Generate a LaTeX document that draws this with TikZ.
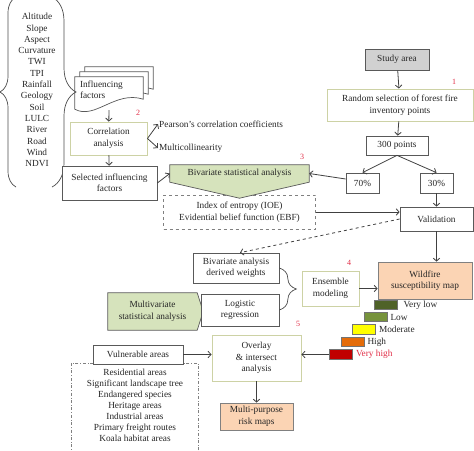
\documentclass[tikz,border=0pt]{standalone}
\usepackage{fontspec}
\setmainfont{Liberation Serif}
\usepackage{tikz}
\usetikzlibrary{arrows.meta,positioning,backgrounds,decorations.pathreplacing}
\usepackage{xcolor}
\definecolor{lolive}{RGB}{205,210,165}
\definecolor{gfill}{RGB}{214,227,188}
\definecolor{peach}{RGB}{251,212,180}
\definecolor{numred}{RGB}{225,45,70}
\definecolor{lvA}{RGB}{79,98,40}
\definecolor{lvB}{RGB}{119,147,60}
\definecolor{lvC}{RGB}{255,255,0}
\definecolor{lvD}{RGB}{228,108,10}
\definecolor{lvE}{RGB}{192,0,0}
\newcommand{\bfont}{\fontsize{9.3}{11.5}\selectfont}
\newcommand{\docsheet}[1]{%
  \filldraw[sheet] (#1.north west) -- (#1.north east) -- ([yshift=4pt]#1.south east)
    .. controls ([xshift=-28pt,yshift=13pt]#1.south east) and ([xshift=20pt,yshift=-17pt]#1.south west)
    .. ([yshift=-6pt]#1.south west) -- cycle;}
\tikzset{
  txt/.style    ={font=\bfont, text=black!85, inner sep=1pt, align=center},
  box/.style    ={txt, draw=black!65, fill=white, line width=0.7pt},
  gbox/.style   ={box, draw=lolive, line width=0.9pt},
  pbox/.style   ={box, fill=peach, draw=black!50},
  dbox/.style   ={box, draw=black!50, dashed},
  ddbox/.style  ={draw=black!50, dash dot, line width=0.7pt},
  sheet/.style  ={draw=black!65, fill=white, line width=0.7pt},
  pent/.style   ={draw=black!65, fill=gfill, line width=0.7pt},
  legc/.style   ={draw=black!55, minimum width=23pt, minimum height=9.5pt,
                  inner sep=0pt, line width=0.6pt},
  num/.style    ={font=\fontsize{8}{9}\selectfont, text=numred},
  anc/.style    ={-{Straight Barb[length=3pt,width=6.5pt]}, line width=0.8pt, black!75},
  danc/.style   ={anc, dashed},
  brc/.style    ={decorate, decoration={brace, amplitude=#1}, line width=0.7pt, black!70},
}

\begin{document}
\begin{tikzpicture}[x=1pt,y=-1pt]
  \useasboundingbox (0,0) rectangle (474,450);
  % factor list
  \node[txt, font=\fontsize{9.3}{11.3}\selectfont] (facs) at (37,90)
    {Altitude\\Slope\\Aspect\\Curvature\\TWI\\TPI\\Rainfall\\Geology\\Soil\\LULC\\River\\Road\\Wind\\NDVI};
  \draw[brc=16pt] (16,187) -- (16,-3);
  \draw[brc=24pt] (52,-3) -- (52,187);
  \node[txt, minimum width=68pt, minimum height=26pt] (sh3) at (119,80) {};
  \node[txt, minimum width=68pt, minimum height=26pt] (sh2) at (114,85) {};
  \node[txt, minimum width=68pt, minimum height=26pt, text width=58pt,
        inner xsep=5pt, align=left] (inf) at (109,90) {Influencing\\factors};
  \node[num] (n2) at (138,113) {2};
  \node[gbox, minimum width=77pt, minimum height=33pt] (corr) at (108.5,138.5) {Correlation\\analysis};
  \node[txt, anchor=west] (pear) at (158,124) {Pearson's correlation coefficients};
  \node[txt, anchor=west] (mcol) at (158,148) {Multicollinearity};
  \node[box, minimum width=95pt, minimum height=34pt] (sel) at (109.5,183) {Selected influencing\\factors};
  \node[txt, minimum width=139pt, minimum height=17pt] (biv) at (239.5,173.5) {Bivariate statistical analysis};
  \node[num] (n3) at (302,157) {3};
  \node[txt, minimum width=89pt, minimum height=37pt] (mva) at (152.5,311.5) {Multivariate\\statistical analysis};
  \begin{scope}[on background layer]
    \node[dbox, minimum width=152pt, minimum height=34pt] (ioe) at (239.5,212)
      {Index of entropy (IOE)\\Evidential belief function (EBF)};
    \filldraw[pent] (biv.north west) -- (biv.north east) -- (biv.south east)
      -- ([yshift=-16pt]biv.south) -- (biv.south west) -- cycle;
    \filldraw[pent] (mva.north west) -- (mva.north east) -- ([xshift=6pt]mva.east)
      -- (mva.south east) -- (mva.south west) -- cycle;
    \docsheet{sh3}
    \docsheet{sh2}
    \docsheet{inf}
  \end{scope}
  % right column
  \node[box, fill=black!18, minimum width=64pt, minimum height=21pt] (study) at (397,59.5) {Study area};
  \node[num] (n1) at (454,82) {1};
  \node[gbox, minimum width=146pt, minimum height=32pt] (rand) at (400,105) {Random selection of forest fire\\inventory points};
  \node[box, minimum width=62pt, minimum height=19pt] (pts) at (397,145.5) {300 points};
  \node[box, minimum width=33pt, minimum height=20pt] (p70) at (362.5,183) {70\%};
  \node[box, minimum width=33pt, minimum height=20pt] (p30) at (436.5,183) {30\%};
  \node[box, minimum width=73pt, minimum height=24pt] (valid) at (436.5,219) {Validation};
  % modelling
  \node[box, minimum width=86pt, minimum height=30pt] (bdw) at (236,268) {Bivariate analysis\\derived weights};
  \node[box, minimum width=78pt, minimum height=32pt] (logr) at (240,310) {Logistic\\regression};
  \node[num] (n4) at (349,263) {4};
  \node[gbox, minimum width=57pt, minimum height=35pt] (ens) at (330.5,288.5) {Ensemble\\modeling};
  \node[pbox, minimum width=94pt, minimum height=37pt] (wild) at (425,280.5) {Wildfire\\susceptibility map};
  \node[legc, fill=lvA] (lA) at (385.5,305) {};
  \node[legc, fill=lvB] (lB) at (375.5,317) {};
  \node[legc, fill=lvC] (lC) at (364,329.5) {};
  \node[legc, fill=lvD] (lD) at (352.5,342) {};
  \node[legc, fill=lvE] (lE) at (341,354.5) {};
  \node[txt, right=5pt of lA] (tA) {Very low};
  \node[txt, right=2pt of lB] (tB) {Low};
  \node[txt, right=2pt of lC] (tC) {Moderate};
  \node[txt, right=2pt of lD] (tD) {High};
  \node[txt, right=2pt of lE, text=numred] (tE) {Very high};
  % risk part
  \node[num] (n5) at (298,324) {5};
  \node[gbox, minimum width=89pt, minimum height=46pt] (over) at (256.5,358) {Overlay\\\& intersect\\analysis};
  \node[txt, font=\fontsize{9.3}{11}\selectfont, minimum width=126pt, inner ysep=6pt, anchor=north] (vlist) at (135,363)
    {Residential areas\\Significant landscape tree\\Endangered species\\Heritage areas\\Industrial areas\\Primary freight routes\\Koala habitat areas};
  \draw[ddbox] (vlist.north west) rectangle ([yshift=-14pt]vlist.south east);
  \node[box, minimum width=90pt, minimum height=19pt] (vul) at (138,354.5) {Vulnerable areas};
  \node[pbox, minimum width=73pt, minimum height=27pt] (risk) at (256.5,416.5) {Multi-purpose\\risk maps};
  % connectors
  \draw[anc] ([yshift=-7pt]inf.south) -- (corr);
  \draw[anc] (corr.east) -- (pear.west);
  \draw[anc] (corr.east) -- (mcol.west);
  \draw[anc] (corr) -- (sel);
  \draw[anc] (sel.east) -- (biv.west);
  \draw[anc] (study) -- (rand);
  \draw[anc] (rand) -- (pts);
  \draw[anc] (pts.south) -- (p70.north);
  \draw[anc] (pts.south) -- (p30.north);
  \draw[anc] ([yshift=4pt]p70.west) -- (biv.east);
  \draw[anc] (p30) -- (valid);
  \draw[anc] (ioe.east) -- (ioe.east -| valid.west);
  \draw[danc] (valid.west) -- ([xshift=4pt]bdw.north);
  \draw[anc] (valid.south) -- (valid.south |- wild.north);
  \draw[brc=17pt] (bdw.east) -- (logr.east);
  \draw[anc] (ens.east) -- (ens.east -| wild.west);
  \draw[anc] (lE.west) -- (lE.west -| over.east);
  \draw[anc] (vul.east) -- (vul.east -| over.west);
  \draw[anc] (over) -- (risk);
\end{tikzpicture}
\end{document}
